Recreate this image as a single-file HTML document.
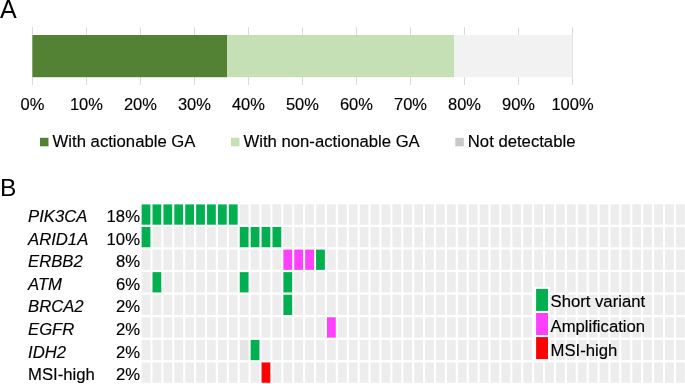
<!DOCTYPE html>
<html><head><meta charset="utf-8"><title>Figure</title>
<style>
html,body{margin:0;padding:0;background:#fff;}
body{width:685px;height:384px;overflow:hidden;}
svg{display:block;}
text{font-family:"Liberation Sans",Arial,sans-serif;fill:#000;stroke:#000;stroke-width:0.15px;}
.n{stroke:none;}
.i{font-style:italic;}
</style></head><body>
<svg width="685" height="384" viewBox="0 0 685 384">
<rect width="685" height="384" fill="#fff"/>
<rect x="31.90" y="27.2" width="1" height="57.7" fill="#d9d9d9"/>
<rect x="85.91" y="27.2" width="1" height="57.7" fill="#d9d9d9"/>
<rect x="139.92" y="27.2" width="1" height="57.7" fill="#d9d9d9"/>
<rect x="193.93" y="27.2" width="1" height="57.7" fill="#d9d9d9"/>
<rect x="247.94" y="27.2" width="1" height="57.7" fill="#d9d9d9"/>
<rect x="301.95" y="27.2" width="1" height="57.7" fill="#d9d9d9"/>
<rect x="355.96" y="27.2" width="1" height="57.7" fill="#d9d9d9"/>
<rect x="409.97" y="27.2" width="1" height="57.7" fill="#d9d9d9"/>
<rect x="463.98" y="27.2" width="1" height="57.7" fill="#d9d9d9"/>
<rect x="517.99" y="27.2" width="1" height="57.7" fill="#d9d9d9"/>
<rect x="572.00" y="27.2" width="1" height="57.7" fill="#d9d9d9"/>
<rect x="32.40" y="35.0" width="194.60" height="42.20" fill="#548235"/>
<rect x="227.00" y="35.0" width="227.00" height="42.20" fill="#c5e0b4"/>
<rect x="454.00" y="35.0" width="118.50" height="42.20" fill="#f2f2f2"/>
<text x="32.40" y="109.6" font-size="16.5" text-anchor="middle">0%</text>
<text x="86.41" y="109.6" font-size="16.5" text-anchor="middle">10%</text>
<text x="140.42" y="109.6" font-size="16.5" text-anchor="middle">20%</text>
<text x="194.43" y="109.6" font-size="16.5" text-anchor="middle">30%</text>
<text x="248.44" y="109.6" font-size="16.5" text-anchor="middle">40%</text>
<text x="302.45" y="109.6" font-size="16.5" text-anchor="middle">50%</text>
<text x="356.46" y="109.6" font-size="16.5" text-anchor="middle">60%</text>
<text x="410.47" y="109.6" font-size="16.5" text-anchor="middle">70%</text>
<text x="464.48" y="109.6" font-size="16.5" text-anchor="middle">80%</text>
<text x="518.49" y="109.6" font-size="16.5" text-anchor="middle">90%</text>
<text x="572.50" y="109.6" font-size="16.5" text-anchor="middle">100%</text>
<rect x="40" y="137.8" width="8.5" height="8.5" fill="#548235"/>
<text x="52.6" y="147.1" font-size="16.7">With actionable GA</text>
<rect x="231" y="137.8" width="8.5" height="8.5" fill="#c5e0b4"/>
<text x="243.5" y="147.1" font-size="16.7">With non-actionable GA</text>
<rect x="455.3" y="137.8" width="8.5" height="8.5" fill="#c8c8c8"/>
<text x="467.8" y="147.1" font-size="16.7">Not detectable</text>
<text x="0" y="17.8" font-size="25" class="n">A</text>
<text x="0" y="196" font-size="24.6" class="n">B</text>
<rect x="141.60" y="204.40" width="8.8" height="20.3" fill="#00b050"/><rect x="152.50" y="204.40" width="8.8" height="20.3" fill="#00b050"/><rect x="163.41" y="204.40" width="8.8" height="20.3" fill="#00b050"/><rect x="174.31" y="204.40" width="8.8" height="20.3" fill="#00b050"/><rect x="185.22" y="204.40" width="8.8" height="20.3" fill="#00b050"/><rect x="196.12" y="204.40" width="8.8" height="20.3" fill="#00b050"/><rect x="207.03" y="204.40" width="8.8" height="20.3" fill="#00b050"/><rect x="217.94" y="204.40" width="8.8" height="20.3" fill="#00b050"/><rect x="228.84" y="204.40" width="8.8" height="20.3" fill="#00b050"/><rect x="239.75" y="204.40" width="8.8" height="20.3" fill="#ededed"/><rect x="250.65" y="204.40" width="8.8" height="20.3" fill="#ededed"/><rect x="261.56" y="204.40" width="8.8" height="20.3" fill="#ededed"/><rect x="272.46" y="204.40" width="8.8" height="20.3" fill="#ededed"/><rect x="283.37" y="204.40" width="8.8" height="20.3" fill="#ededed"/><rect x="294.27" y="204.40" width="8.8" height="20.3" fill="#ededed"/><rect x="305.17" y="204.40" width="8.8" height="20.3" fill="#ededed"/><rect x="316.08" y="204.40" width="8.8" height="20.3" fill="#ededed"/><rect x="326.99" y="204.40" width="8.8" height="20.3" fill="#ededed"/><rect x="337.89" y="204.40" width="8.8" height="20.3" fill="#ededed"/><rect x="348.79" y="204.40" width="8.8" height="20.3" fill="#ededed"/><rect x="359.70" y="204.40" width="8.8" height="20.3" fill="#ededed"/><rect x="370.61" y="204.40" width="8.8" height="20.3" fill="#ededed"/><rect x="381.51" y="204.40" width="8.8" height="20.3" fill="#ededed"/><rect x="392.41" y="204.40" width="8.8" height="20.3" fill="#ededed"/><rect x="403.32" y="204.40" width="8.8" height="20.3" fill="#ededed"/><rect x="414.23" y="204.40" width="8.8" height="20.3" fill="#ededed"/><rect x="425.13" y="204.40" width="8.8" height="20.3" fill="#ededed"/><rect x="436.03" y="204.40" width="8.8" height="20.3" fill="#ededed"/><rect x="446.94" y="204.40" width="8.8" height="20.3" fill="#ededed"/><rect x="457.85" y="204.40" width="8.8" height="20.3" fill="#ededed"/><rect x="468.75" y="204.40" width="8.8" height="20.3" fill="#ededed"/><rect x="479.65" y="204.40" width="8.8" height="20.3" fill="#ededed"/><rect x="490.56" y="204.40" width="8.8" height="20.3" fill="#ededed"/><rect x="501.46" y="204.40" width="8.8" height="20.3" fill="#ededed"/><rect x="512.37" y="204.40" width="8.8" height="20.3" fill="#ededed"/><rect x="523.27" y="204.40" width="8.8" height="20.3" fill="#ededed"/><rect x="534.18" y="204.40" width="8.8" height="20.3" fill="#ededed"/><rect x="545.08" y="204.40" width="8.8" height="20.3" fill="#ededed"/><rect x="555.99" y="204.40" width="8.8" height="20.3" fill="#ededed"/><rect x="566.89" y="204.40" width="8.8" height="20.3" fill="#ededed"/><rect x="577.80" y="204.40" width="8.8" height="20.3" fill="#ededed"/><rect x="588.70" y="204.40" width="8.8" height="20.3" fill="#ededed"/><rect x="599.61" y="204.40" width="8.8" height="20.3" fill="#ededed"/><rect x="610.51" y="204.40" width="8.8" height="20.3" fill="#ededed"/><rect x="621.42" y="204.40" width="8.8" height="20.3" fill="#ededed"/><rect x="632.32" y="204.40" width="8.8" height="20.3" fill="#ededed"/><rect x="643.23" y="204.40" width="8.8" height="20.3" fill="#ededed"/><rect x="654.13" y="204.40" width="8.8" height="20.3" fill="#ededed"/><rect x="665.04" y="204.40" width="8.8" height="20.3" fill="#ededed"/><rect x="675.94" y="204.40" width="8.8" height="20.3" fill="#ededed"/>
<text x="28" y="221.90" font-size="16.7" class="i">PIK3CA</text>
<text x="140" y="221.90" font-size="16.7" text-anchor="end">18%</text>
<rect x="141.60" y="226.98" width="8.8" height="20.3" fill="#00b050"/><rect x="152.50" y="226.98" width="8.8" height="20.3" fill="#ededed"/><rect x="163.41" y="226.98" width="8.8" height="20.3" fill="#ededed"/><rect x="174.31" y="226.98" width="8.8" height="20.3" fill="#ededed"/><rect x="185.22" y="226.98" width="8.8" height="20.3" fill="#ededed"/><rect x="196.12" y="226.98" width="8.8" height="20.3" fill="#ededed"/><rect x="207.03" y="226.98" width="8.8" height="20.3" fill="#ededed"/><rect x="217.94" y="226.98" width="8.8" height="20.3" fill="#ededed"/><rect x="228.84" y="226.98" width="8.8" height="20.3" fill="#ededed"/><rect x="239.75" y="226.98" width="8.8" height="20.3" fill="#00b050"/><rect x="250.65" y="226.98" width="8.8" height="20.3" fill="#00b050"/><rect x="261.56" y="226.98" width="8.8" height="20.3" fill="#00b050"/><rect x="272.46" y="226.98" width="8.8" height="20.3" fill="#00b050"/><rect x="283.37" y="226.98" width="8.8" height="20.3" fill="#ededed"/><rect x="294.27" y="226.98" width="8.8" height="20.3" fill="#ededed"/><rect x="305.17" y="226.98" width="8.8" height="20.3" fill="#ededed"/><rect x="316.08" y="226.98" width="8.8" height="20.3" fill="#ededed"/><rect x="326.99" y="226.98" width="8.8" height="20.3" fill="#ededed"/><rect x="337.89" y="226.98" width="8.8" height="20.3" fill="#ededed"/><rect x="348.79" y="226.98" width="8.8" height="20.3" fill="#ededed"/><rect x="359.70" y="226.98" width="8.8" height="20.3" fill="#ededed"/><rect x="370.61" y="226.98" width="8.8" height="20.3" fill="#ededed"/><rect x="381.51" y="226.98" width="8.8" height="20.3" fill="#ededed"/><rect x="392.41" y="226.98" width="8.8" height="20.3" fill="#ededed"/><rect x="403.32" y="226.98" width="8.8" height="20.3" fill="#ededed"/><rect x="414.23" y="226.98" width="8.8" height="20.3" fill="#ededed"/><rect x="425.13" y="226.98" width="8.8" height="20.3" fill="#ededed"/><rect x="436.03" y="226.98" width="8.8" height="20.3" fill="#ededed"/><rect x="446.94" y="226.98" width="8.8" height="20.3" fill="#ededed"/><rect x="457.85" y="226.98" width="8.8" height="20.3" fill="#ededed"/><rect x="468.75" y="226.98" width="8.8" height="20.3" fill="#ededed"/><rect x="479.65" y="226.98" width="8.8" height="20.3" fill="#ededed"/><rect x="490.56" y="226.98" width="8.8" height="20.3" fill="#ededed"/><rect x="501.46" y="226.98" width="8.8" height="20.3" fill="#ededed"/><rect x="512.37" y="226.98" width="8.8" height="20.3" fill="#ededed"/><rect x="523.27" y="226.98" width="8.8" height="20.3" fill="#ededed"/><rect x="534.18" y="226.98" width="8.8" height="20.3" fill="#ededed"/><rect x="545.08" y="226.98" width="8.8" height="20.3" fill="#ededed"/><rect x="555.99" y="226.98" width="8.8" height="20.3" fill="#ededed"/><rect x="566.89" y="226.98" width="8.8" height="20.3" fill="#ededed"/><rect x="577.80" y="226.98" width="8.8" height="20.3" fill="#ededed"/><rect x="588.70" y="226.98" width="8.8" height="20.3" fill="#ededed"/><rect x="599.61" y="226.98" width="8.8" height="20.3" fill="#ededed"/><rect x="610.51" y="226.98" width="8.8" height="20.3" fill="#ededed"/><rect x="621.42" y="226.98" width="8.8" height="20.3" fill="#ededed"/><rect x="632.32" y="226.98" width="8.8" height="20.3" fill="#ededed"/><rect x="643.23" y="226.98" width="8.8" height="20.3" fill="#ededed"/><rect x="654.13" y="226.98" width="8.8" height="20.3" fill="#ededed"/><rect x="665.04" y="226.98" width="8.8" height="20.3" fill="#ededed"/><rect x="675.94" y="226.98" width="8.8" height="20.3" fill="#ededed"/>
<text x="28" y="244.50" font-size="16.7" class="i">ARID1A</text>
<text x="140" y="244.50" font-size="16.7" text-anchor="end">10%</text>
<rect x="141.60" y="249.56" width="8.8" height="20.3" fill="#ededed"/><rect x="152.50" y="249.56" width="8.8" height="20.3" fill="#ededed"/><rect x="163.41" y="249.56" width="8.8" height="20.3" fill="#ededed"/><rect x="174.31" y="249.56" width="8.8" height="20.3" fill="#ededed"/><rect x="185.22" y="249.56" width="8.8" height="20.3" fill="#ededed"/><rect x="196.12" y="249.56" width="8.8" height="20.3" fill="#ededed"/><rect x="207.03" y="249.56" width="8.8" height="20.3" fill="#ededed"/><rect x="217.94" y="249.56" width="8.8" height="20.3" fill="#ededed"/><rect x="228.84" y="249.56" width="8.8" height="20.3" fill="#ededed"/><rect x="239.75" y="249.56" width="8.8" height="20.3" fill="#ededed"/><rect x="250.65" y="249.56" width="8.8" height="20.3" fill="#ededed"/><rect x="261.56" y="249.56" width="8.8" height="20.3" fill="#ededed"/><rect x="272.46" y="249.56" width="8.8" height="20.3" fill="#ededed"/><rect x="283.37" y="249.56" width="8.8" height="20.3" fill="#ff40ff"/><rect x="294.27" y="249.56" width="8.8" height="20.3" fill="#ff40ff"/><rect x="305.17" y="249.56" width="8.8" height="20.3" fill="#ff40ff"/><rect x="316.08" y="249.56" width="8.8" height="20.3" fill="#00b050"/><rect x="326.99" y="249.56" width="8.8" height="20.3" fill="#ededed"/><rect x="337.89" y="249.56" width="8.8" height="20.3" fill="#ededed"/><rect x="348.79" y="249.56" width="8.8" height="20.3" fill="#ededed"/><rect x="359.70" y="249.56" width="8.8" height="20.3" fill="#ededed"/><rect x="370.61" y="249.56" width="8.8" height="20.3" fill="#ededed"/><rect x="381.51" y="249.56" width="8.8" height="20.3" fill="#ededed"/><rect x="392.41" y="249.56" width="8.8" height="20.3" fill="#ededed"/><rect x="403.32" y="249.56" width="8.8" height="20.3" fill="#ededed"/><rect x="414.23" y="249.56" width="8.8" height="20.3" fill="#ededed"/><rect x="425.13" y="249.56" width="8.8" height="20.3" fill="#ededed"/><rect x="436.03" y="249.56" width="8.8" height="20.3" fill="#ededed"/><rect x="446.94" y="249.56" width="8.8" height="20.3" fill="#ededed"/><rect x="457.85" y="249.56" width="8.8" height="20.3" fill="#ededed"/><rect x="468.75" y="249.56" width="8.8" height="20.3" fill="#ededed"/><rect x="479.65" y="249.56" width="8.8" height="20.3" fill="#ededed"/><rect x="490.56" y="249.56" width="8.8" height="20.3" fill="#ededed"/><rect x="501.46" y="249.56" width="8.8" height="20.3" fill="#ededed"/><rect x="512.37" y="249.56" width="8.8" height="20.3" fill="#ededed"/><rect x="523.27" y="249.56" width="8.8" height="20.3" fill="#ededed"/><rect x="534.18" y="249.56" width="8.8" height="20.3" fill="#ededed"/><rect x="545.08" y="249.56" width="8.8" height="20.3" fill="#ededed"/><rect x="555.99" y="249.56" width="8.8" height="20.3" fill="#ededed"/><rect x="566.89" y="249.56" width="8.8" height="20.3" fill="#ededed"/><rect x="577.80" y="249.56" width="8.8" height="20.3" fill="#ededed"/><rect x="588.70" y="249.56" width="8.8" height="20.3" fill="#ededed"/><rect x="599.61" y="249.56" width="8.8" height="20.3" fill="#ededed"/><rect x="610.51" y="249.56" width="8.8" height="20.3" fill="#ededed"/><rect x="621.42" y="249.56" width="8.8" height="20.3" fill="#ededed"/><rect x="632.32" y="249.56" width="8.8" height="20.3" fill="#ededed"/><rect x="643.23" y="249.56" width="8.8" height="20.3" fill="#ededed"/><rect x="654.13" y="249.56" width="8.8" height="20.3" fill="#ededed"/><rect x="665.04" y="249.56" width="8.8" height="20.3" fill="#ededed"/><rect x="675.94" y="249.56" width="8.8" height="20.3" fill="#ededed"/>
<text x="28" y="267.10" font-size="16.7" class="i">ERBB2</text>
<text x="140" y="267.10" font-size="16.7" text-anchor="end">8%</text>
<rect x="141.60" y="272.14" width="8.8" height="20.3" fill="#ededed"/><rect x="152.50" y="272.14" width="8.8" height="20.3" fill="#00b050"/><rect x="163.41" y="272.14" width="8.8" height="20.3" fill="#ededed"/><rect x="174.31" y="272.14" width="8.8" height="20.3" fill="#ededed"/><rect x="185.22" y="272.14" width="8.8" height="20.3" fill="#ededed"/><rect x="196.12" y="272.14" width="8.8" height="20.3" fill="#ededed"/><rect x="207.03" y="272.14" width="8.8" height="20.3" fill="#ededed"/><rect x="217.94" y="272.14" width="8.8" height="20.3" fill="#ededed"/><rect x="228.84" y="272.14" width="8.8" height="20.3" fill="#ededed"/><rect x="239.75" y="272.14" width="8.8" height="20.3" fill="#00b050"/><rect x="250.65" y="272.14" width="8.8" height="20.3" fill="#ededed"/><rect x="261.56" y="272.14" width="8.8" height="20.3" fill="#ededed"/><rect x="272.46" y="272.14" width="8.8" height="20.3" fill="#ededed"/><rect x="283.37" y="272.14" width="8.8" height="20.3" fill="#00b050"/><rect x="294.27" y="272.14" width="8.8" height="20.3" fill="#ededed"/><rect x="305.17" y="272.14" width="8.8" height="20.3" fill="#ededed"/><rect x="316.08" y="272.14" width="8.8" height="20.3" fill="#ededed"/><rect x="326.99" y="272.14" width="8.8" height="20.3" fill="#ededed"/><rect x="337.89" y="272.14" width="8.8" height="20.3" fill="#ededed"/><rect x="348.79" y="272.14" width="8.8" height="20.3" fill="#ededed"/><rect x="359.70" y="272.14" width="8.8" height="20.3" fill="#ededed"/><rect x="370.61" y="272.14" width="8.8" height="20.3" fill="#ededed"/><rect x="381.51" y="272.14" width="8.8" height="20.3" fill="#ededed"/><rect x="392.41" y="272.14" width="8.8" height="20.3" fill="#ededed"/><rect x="403.32" y="272.14" width="8.8" height="20.3" fill="#ededed"/><rect x="414.23" y="272.14" width="8.8" height="20.3" fill="#ededed"/><rect x="425.13" y="272.14" width="8.8" height="20.3" fill="#ededed"/><rect x="436.03" y="272.14" width="8.8" height="20.3" fill="#ededed"/><rect x="446.94" y="272.14" width="8.8" height="20.3" fill="#ededed"/><rect x="457.85" y="272.14" width="8.8" height="20.3" fill="#ededed"/><rect x="468.75" y="272.14" width="8.8" height="20.3" fill="#ededed"/><rect x="479.65" y="272.14" width="8.8" height="20.3" fill="#ededed"/><rect x="490.56" y="272.14" width="8.8" height="20.3" fill="#ededed"/><rect x="501.46" y="272.14" width="8.8" height="20.3" fill="#ededed"/><rect x="512.37" y="272.14" width="8.8" height="20.3" fill="#ededed"/><rect x="523.27" y="272.14" width="8.8" height="20.3" fill="#ededed"/><rect x="534.18" y="272.14" width="8.8" height="20.3" fill="#ededed"/><rect x="545.08" y="272.14" width="8.8" height="20.3" fill="#ededed"/><rect x="555.99" y="272.14" width="8.8" height="20.3" fill="#ededed"/><rect x="566.89" y="272.14" width="8.8" height="20.3" fill="#ededed"/><rect x="577.80" y="272.14" width="8.8" height="20.3" fill="#ededed"/><rect x="588.70" y="272.14" width="8.8" height="20.3" fill="#ededed"/><rect x="599.61" y="272.14" width="8.8" height="20.3" fill="#ededed"/><rect x="610.51" y="272.14" width="8.8" height="20.3" fill="#ededed"/><rect x="621.42" y="272.14" width="8.8" height="20.3" fill="#ededed"/><rect x="632.32" y="272.14" width="8.8" height="20.3" fill="#ededed"/><rect x="643.23" y="272.14" width="8.8" height="20.3" fill="#ededed"/><rect x="654.13" y="272.14" width="8.8" height="20.3" fill="#ededed"/><rect x="665.04" y="272.14" width="8.8" height="20.3" fill="#ededed"/><rect x="675.94" y="272.14" width="8.8" height="20.3" fill="#ededed"/>
<text x="28" y="289.70" font-size="16.7" class="i">ATM</text>
<text x="140" y="289.70" font-size="16.7" text-anchor="end">6%</text>
<rect x="141.60" y="294.72" width="8.8" height="20.3" fill="#ededed"/><rect x="152.50" y="294.72" width="8.8" height="20.3" fill="#ededed"/><rect x="163.41" y="294.72" width="8.8" height="20.3" fill="#ededed"/><rect x="174.31" y="294.72" width="8.8" height="20.3" fill="#ededed"/><rect x="185.22" y="294.72" width="8.8" height="20.3" fill="#ededed"/><rect x="196.12" y="294.72" width="8.8" height="20.3" fill="#ededed"/><rect x="207.03" y="294.72" width="8.8" height="20.3" fill="#ededed"/><rect x="217.94" y="294.72" width="8.8" height="20.3" fill="#ededed"/><rect x="228.84" y="294.72" width="8.8" height="20.3" fill="#ededed"/><rect x="239.75" y="294.72" width="8.8" height="20.3" fill="#ededed"/><rect x="250.65" y="294.72" width="8.8" height="20.3" fill="#ededed"/><rect x="261.56" y="294.72" width="8.8" height="20.3" fill="#ededed"/><rect x="272.46" y="294.72" width="8.8" height="20.3" fill="#ededed"/><rect x="283.37" y="294.72" width="8.8" height="20.3" fill="#00b050"/><rect x="294.27" y="294.72" width="8.8" height="20.3" fill="#ededed"/><rect x="305.17" y="294.72" width="8.8" height="20.3" fill="#ededed"/><rect x="316.08" y="294.72" width="8.8" height="20.3" fill="#ededed"/><rect x="326.99" y="294.72" width="8.8" height="20.3" fill="#ededed"/><rect x="337.89" y="294.72" width="8.8" height="20.3" fill="#ededed"/><rect x="348.79" y="294.72" width="8.8" height="20.3" fill="#ededed"/><rect x="359.70" y="294.72" width="8.8" height="20.3" fill="#ededed"/><rect x="370.61" y="294.72" width="8.8" height="20.3" fill="#ededed"/><rect x="381.51" y="294.72" width="8.8" height="20.3" fill="#ededed"/><rect x="392.41" y="294.72" width="8.8" height="20.3" fill="#ededed"/><rect x="403.32" y="294.72" width="8.8" height="20.3" fill="#ededed"/><rect x="414.23" y="294.72" width="8.8" height="20.3" fill="#ededed"/><rect x="425.13" y="294.72" width="8.8" height="20.3" fill="#ededed"/><rect x="436.03" y="294.72" width="8.8" height="20.3" fill="#ededed"/><rect x="446.94" y="294.72" width="8.8" height="20.3" fill="#ededed"/><rect x="457.85" y="294.72" width="8.8" height="20.3" fill="#ededed"/><rect x="468.75" y="294.72" width="8.8" height="20.3" fill="#ededed"/><rect x="479.65" y="294.72" width="8.8" height="20.3" fill="#ededed"/><rect x="490.56" y="294.72" width="8.8" height="20.3" fill="#ededed"/><rect x="501.46" y="294.72" width="8.8" height="20.3" fill="#ededed"/><rect x="512.37" y="294.72" width="8.8" height="20.3" fill="#ededed"/><rect x="523.27" y="294.72" width="8.8" height="20.3" fill="#ededed"/><rect x="534.18" y="294.72" width="8.8" height="20.3" fill="#ededed"/><rect x="545.08" y="294.72" width="8.8" height="20.3" fill="#ededed"/><rect x="555.99" y="294.72" width="8.8" height="20.3" fill="#ededed"/><rect x="566.89" y="294.72" width="8.8" height="20.3" fill="#ededed"/><rect x="577.80" y="294.72" width="8.8" height="20.3" fill="#ededed"/><rect x="588.70" y="294.72" width="8.8" height="20.3" fill="#ededed"/><rect x="599.61" y="294.72" width="8.8" height="20.3" fill="#ededed"/><rect x="610.51" y="294.72" width="8.8" height="20.3" fill="#ededed"/><rect x="621.42" y="294.72" width="8.8" height="20.3" fill="#ededed"/><rect x="632.32" y="294.72" width="8.8" height="20.3" fill="#ededed"/><rect x="643.23" y="294.72" width="8.8" height="20.3" fill="#ededed"/><rect x="654.13" y="294.72" width="8.8" height="20.3" fill="#ededed"/><rect x="665.04" y="294.72" width="8.8" height="20.3" fill="#ededed"/><rect x="675.94" y="294.72" width="8.8" height="20.3" fill="#ededed"/>
<text x="28" y="312.30" font-size="16.7" class="i">BRCA2</text>
<text x="140" y="312.30" font-size="16.7" text-anchor="end">2%</text>
<rect x="141.60" y="317.30" width="8.8" height="20.3" fill="#ededed"/><rect x="152.50" y="317.30" width="8.8" height="20.3" fill="#ededed"/><rect x="163.41" y="317.30" width="8.8" height="20.3" fill="#ededed"/><rect x="174.31" y="317.30" width="8.8" height="20.3" fill="#ededed"/><rect x="185.22" y="317.30" width="8.8" height="20.3" fill="#ededed"/><rect x="196.12" y="317.30" width="8.8" height="20.3" fill="#ededed"/><rect x="207.03" y="317.30" width="8.8" height="20.3" fill="#ededed"/><rect x="217.94" y="317.30" width="8.8" height="20.3" fill="#ededed"/><rect x="228.84" y="317.30" width="8.8" height="20.3" fill="#ededed"/><rect x="239.75" y="317.30" width="8.8" height="20.3" fill="#ededed"/><rect x="250.65" y="317.30" width="8.8" height="20.3" fill="#ededed"/><rect x="261.56" y="317.30" width="8.8" height="20.3" fill="#ededed"/><rect x="272.46" y="317.30" width="8.8" height="20.3" fill="#ededed"/><rect x="283.37" y="317.30" width="8.8" height="20.3" fill="#ededed"/><rect x="294.27" y="317.30" width="8.8" height="20.3" fill="#ededed"/><rect x="305.17" y="317.30" width="8.8" height="20.3" fill="#ededed"/><rect x="316.08" y="317.30" width="8.8" height="20.3" fill="#ededed"/><rect x="326.99" y="317.30" width="8.8" height="20.3" fill="#ff40ff"/><rect x="337.89" y="317.30" width="8.8" height="20.3" fill="#ededed"/><rect x="348.79" y="317.30" width="8.8" height="20.3" fill="#ededed"/><rect x="359.70" y="317.30" width="8.8" height="20.3" fill="#ededed"/><rect x="370.61" y="317.30" width="8.8" height="20.3" fill="#ededed"/><rect x="381.51" y="317.30" width="8.8" height="20.3" fill="#ededed"/><rect x="392.41" y="317.30" width="8.8" height="20.3" fill="#ededed"/><rect x="403.32" y="317.30" width="8.8" height="20.3" fill="#ededed"/><rect x="414.23" y="317.30" width="8.8" height="20.3" fill="#ededed"/><rect x="425.13" y="317.30" width="8.8" height="20.3" fill="#ededed"/><rect x="436.03" y="317.30" width="8.8" height="20.3" fill="#ededed"/><rect x="446.94" y="317.30" width="8.8" height="20.3" fill="#ededed"/><rect x="457.85" y="317.30" width="8.8" height="20.3" fill="#ededed"/><rect x="468.75" y="317.30" width="8.8" height="20.3" fill="#ededed"/><rect x="479.65" y="317.30" width="8.8" height="20.3" fill="#ededed"/><rect x="490.56" y="317.30" width="8.8" height="20.3" fill="#ededed"/><rect x="501.46" y="317.30" width="8.8" height="20.3" fill="#ededed"/><rect x="512.37" y="317.30" width="8.8" height="20.3" fill="#ededed"/><rect x="523.27" y="317.30" width="8.8" height="20.3" fill="#ededed"/><rect x="534.18" y="317.30" width="8.8" height="20.3" fill="#ededed"/><rect x="545.08" y="317.30" width="8.8" height="20.3" fill="#ededed"/><rect x="555.99" y="317.30" width="8.8" height="20.3" fill="#ededed"/><rect x="566.89" y="317.30" width="8.8" height="20.3" fill="#ededed"/><rect x="577.80" y="317.30" width="8.8" height="20.3" fill="#ededed"/><rect x="588.70" y="317.30" width="8.8" height="20.3" fill="#ededed"/><rect x="599.61" y="317.30" width="8.8" height="20.3" fill="#ededed"/><rect x="610.51" y="317.30" width="8.8" height="20.3" fill="#ededed"/><rect x="621.42" y="317.30" width="8.8" height="20.3" fill="#ededed"/><rect x="632.32" y="317.30" width="8.8" height="20.3" fill="#ededed"/><rect x="643.23" y="317.30" width="8.8" height="20.3" fill="#ededed"/><rect x="654.13" y="317.30" width="8.8" height="20.3" fill="#ededed"/><rect x="665.04" y="317.30" width="8.8" height="20.3" fill="#ededed"/><rect x="675.94" y="317.30" width="8.8" height="20.3" fill="#ededed"/>
<text x="28" y="334.90" font-size="16.7" class="i">EGFR</text>
<text x="140" y="334.90" font-size="16.7" text-anchor="end">2%</text>
<rect x="141.60" y="339.88" width="8.8" height="20.3" fill="#ededed"/><rect x="152.50" y="339.88" width="8.8" height="20.3" fill="#ededed"/><rect x="163.41" y="339.88" width="8.8" height="20.3" fill="#ededed"/><rect x="174.31" y="339.88" width="8.8" height="20.3" fill="#ededed"/><rect x="185.22" y="339.88" width="8.8" height="20.3" fill="#ededed"/><rect x="196.12" y="339.88" width="8.8" height="20.3" fill="#ededed"/><rect x="207.03" y="339.88" width="8.8" height="20.3" fill="#ededed"/><rect x="217.94" y="339.88" width="8.8" height="20.3" fill="#ededed"/><rect x="228.84" y="339.88" width="8.8" height="20.3" fill="#ededed"/><rect x="239.75" y="339.88" width="8.8" height="20.3" fill="#e5e5e5"/><rect x="250.65" y="339.88" width="8.8" height="20.3" fill="#00b050"/><rect x="261.56" y="339.88" width="8.8" height="20.3" fill="#ededed"/><rect x="272.46" y="339.88" width="8.8" height="20.3" fill="#ededed"/><rect x="283.37" y="339.88" width="8.8" height="20.3" fill="#ededed"/><rect x="294.27" y="339.88" width="8.8" height="20.3" fill="#ededed"/><rect x="305.17" y="339.88" width="8.8" height="20.3" fill="#ededed"/><rect x="316.08" y="339.88" width="8.8" height="20.3" fill="#ededed"/><rect x="326.99" y="339.88" width="8.8" height="20.3" fill="#ededed"/><rect x="337.89" y="339.88" width="8.8" height="20.3" fill="#ededed"/><rect x="348.79" y="339.88" width="8.8" height="20.3" fill="#ededed"/><rect x="359.70" y="339.88" width="8.8" height="20.3" fill="#ededed"/><rect x="370.61" y="339.88" width="8.8" height="20.3" fill="#ededed"/><rect x="381.51" y="339.88" width="8.8" height="20.3" fill="#ededed"/><rect x="392.41" y="339.88" width="8.8" height="20.3" fill="#ededed"/><rect x="403.32" y="339.88" width="8.8" height="20.3" fill="#ededed"/><rect x="414.23" y="339.88" width="8.8" height="20.3" fill="#ededed"/><rect x="425.13" y="339.88" width="8.8" height="20.3" fill="#ededed"/><rect x="436.03" y="339.88" width="8.8" height="20.3" fill="#ededed"/><rect x="446.94" y="339.88" width="8.8" height="20.3" fill="#ededed"/><rect x="457.85" y="339.88" width="8.8" height="20.3" fill="#ededed"/><rect x="468.75" y="339.88" width="8.8" height="20.3" fill="#ededed"/><rect x="479.65" y="339.88" width="8.8" height="20.3" fill="#ededed"/><rect x="490.56" y="339.88" width="8.8" height="20.3" fill="#ededed"/><rect x="501.46" y="339.88" width="8.8" height="20.3" fill="#ededed"/><rect x="512.37" y="339.88" width="8.8" height="20.3" fill="#ededed"/><rect x="523.27" y="339.88" width="8.8" height="20.3" fill="#ededed"/><rect x="534.18" y="339.88" width="8.8" height="20.3" fill="#ededed"/><rect x="545.08" y="339.88" width="8.8" height="20.3" fill="#ededed"/><rect x="555.99" y="339.88" width="8.8" height="20.3" fill="#ededed"/><rect x="566.89" y="339.88" width="8.8" height="20.3" fill="#ededed"/><rect x="577.80" y="339.88" width="8.8" height="20.3" fill="#ededed"/><rect x="588.70" y="339.88" width="8.8" height="20.3" fill="#ededed"/><rect x="599.61" y="339.88" width="8.8" height="20.3" fill="#ededed"/><rect x="610.51" y="339.88" width="8.8" height="20.3" fill="#ededed"/><rect x="621.42" y="339.88" width="8.8" height="20.3" fill="#ededed"/><rect x="632.32" y="339.88" width="8.8" height="20.3" fill="#ededed"/><rect x="643.23" y="339.88" width="8.8" height="20.3" fill="#ededed"/><rect x="654.13" y="339.88" width="8.8" height="20.3" fill="#ededed"/><rect x="665.04" y="339.88" width="8.8" height="20.3" fill="#ededed"/><rect x="675.94" y="339.88" width="8.8" height="20.3" fill="#ededed"/>
<text x="28" y="357.50" font-size="16.7" class="i">IDH2</text>
<text x="140" y="357.50" font-size="16.7" text-anchor="end">2%</text>
<rect x="141.60" y="362.46" width="8.8" height="20.3" fill="#ededed"/><rect x="152.50" y="362.46" width="8.8" height="20.3" fill="#ededed"/><rect x="163.41" y="362.46" width="8.8" height="20.3" fill="#ededed"/><rect x="174.31" y="362.46" width="8.8" height="20.3" fill="#ededed"/><rect x="185.22" y="362.46" width="8.8" height="20.3" fill="#ededed"/><rect x="196.12" y="362.46" width="8.8" height="20.3" fill="#ededed"/><rect x="207.03" y="362.46" width="8.8" height="20.3" fill="#ededed"/><rect x="217.94" y="362.46" width="8.8" height="20.3" fill="#ededed"/><rect x="228.84" y="362.46" width="8.8" height="20.3" fill="#ededed"/><rect x="239.75" y="362.46" width="8.8" height="20.3" fill="#ededed"/><rect x="250.65" y="362.46" width="8.8" height="20.3" fill="#ededed"/><rect x="261.56" y="362.46" width="8.8" height="20.3" fill="#ff0000"/><rect x="272.46" y="362.46" width="8.8" height="20.3" fill="#ededed"/><rect x="283.37" y="362.46" width="8.8" height="20.3" fill="#ededed"/><rect x="294.27" y="362.46" width="8.8" height="20.3" fill="#ededed"/><rect x="305.17" y="362.46" width="8.8" height="20.3" fill="#ededed"/><rect x="316.08" y="362.46" width="8.8" height="20.3" fill="#ededed"/><rect x="326.99" y="362.46" width="8.8" height="20.3" fill="#ededed"/><rect x="337.89" y="362.46" width="8.8" height="20.3" fill="#ededed"/><rect x="348.79" y="362.46" width="8.8" height="20.3" fill="#ededed"/><rect x="359.70" y="362.46" width="8.8" height="20.3" fill="#ededed"/><rect x="370.61" y="362.46" width="8.8" height="20.3" fill="#ededed"/><rect x="381.51" y="362.46" width="8.8" height="20.3" fill="#ededed"/><rect x="392.41" y="362.46" width="8.8" height="20.3" fill="#ededed"/><rect x="403.32" y="362.46" width="8.8" height="20.3" fill="#ededed"/><rect x="414.23" y="362.46" width="8.8" height="20.3" fill="#ededed"/><rect x="425.13" y="362.46" width="8.8" height="20.3" fill="#ededed"/><rect x="436.03" y="362.46" width="8.8" height="20.3" fill="#ededed"/><rect x="446.94" y="362.46" width="8.8" height="20.3" fill="#ededed"/><rect x="457.85" y="362.46" width="8.8" height="20.3" fill="#ededed"/><rect x="468.75" y="362.46" width="8.8" height="20.3" fill="#ededed"/><rect x="479.65" y="362.46" width="8.8" height="20.3" fill="#ededed"/><rect x="490.56" y="362.46" width="8.8" height="20.3" fill="#ededed"/><rect x="501.46" y="362.46" width="8.8" height="20.3" fill="#ededed"/><rect x="512.37" y="362.46" width="8.8" height="20.3" fill="#ededed"/><rect x="523.27" y="362.46" width="8.8" height="20.3" fill="#ededed"/><rect x="534.18" y="362.46" width="8.8" height="20.3" fill="#ededed"/><rect x="545.08" y="362.46" width="8.8" height="20.3" fill="#ededed"/><rect x="555.99" y="362.46" width="8.8" height="20.3" fill="#ededed"/><rect x="566.89" y="362.46" width="8.8" height="20.3" fill="#ededed"/><rect x="577.80" y="362.46" width="8.8" height="20.3" fill="#ededed"/><rect x="588.70" y="362.46" width="8.8" height="20.3" fill="#ededed"/><rect x="599.61" y="362.46" width="8.8" height="20.3" fill="#ededed"/><rect x="610.51" y="362.46" width="8.8" height="20.3" fill="#ededed"/><rect x="621.42" y="362.46" width="8.8" height="20.3" fill="#ededed"/><rect x="632.32" y="362.46" width="8.8" height="20.3" fill="#ededed"/><rect x="643.23" y="362.46" width="8.8" height="20.3" fill="#ededed"/><rect x="654.13" y="362.46" width="8.8" height="20.3" fill="#ededed"/><rect x="665.04" y="362.46" width="8.8" height="20.3" fill="#ededed"/><rect x="675.94" y="362.46" width="8.8" height="20.3" fill="#ededed"/>
<text x="28" y="380.10" font-size="16.7">MSI-high</text>
<text x="140" y="380.10" font-size="16.7" text-anchor="end">2%</text>
<rect x="534.1" y="286.9" width="15.8" height="74.3" fill="#fff"/>
<rect x="536.1" y="288.90" width="11.9" height="22" fill="#00b050"/>
<text x="550.5" y="307.40" font-size="16.7">Short variant</text>
<rect x="536.1" y="313.00" width="11.9" height="22" fill="#ff40ff"/>
<text x="550.5" y="331.50" font-size="16.7">Amplification</text>
<rect x="536.1" y="337.10" width="11.9" height="22" fill="#ff0000"/>
<text x="550.5" y="355.60" font-size="16.7">MSI-high</text>
</svg>
</body></html>
